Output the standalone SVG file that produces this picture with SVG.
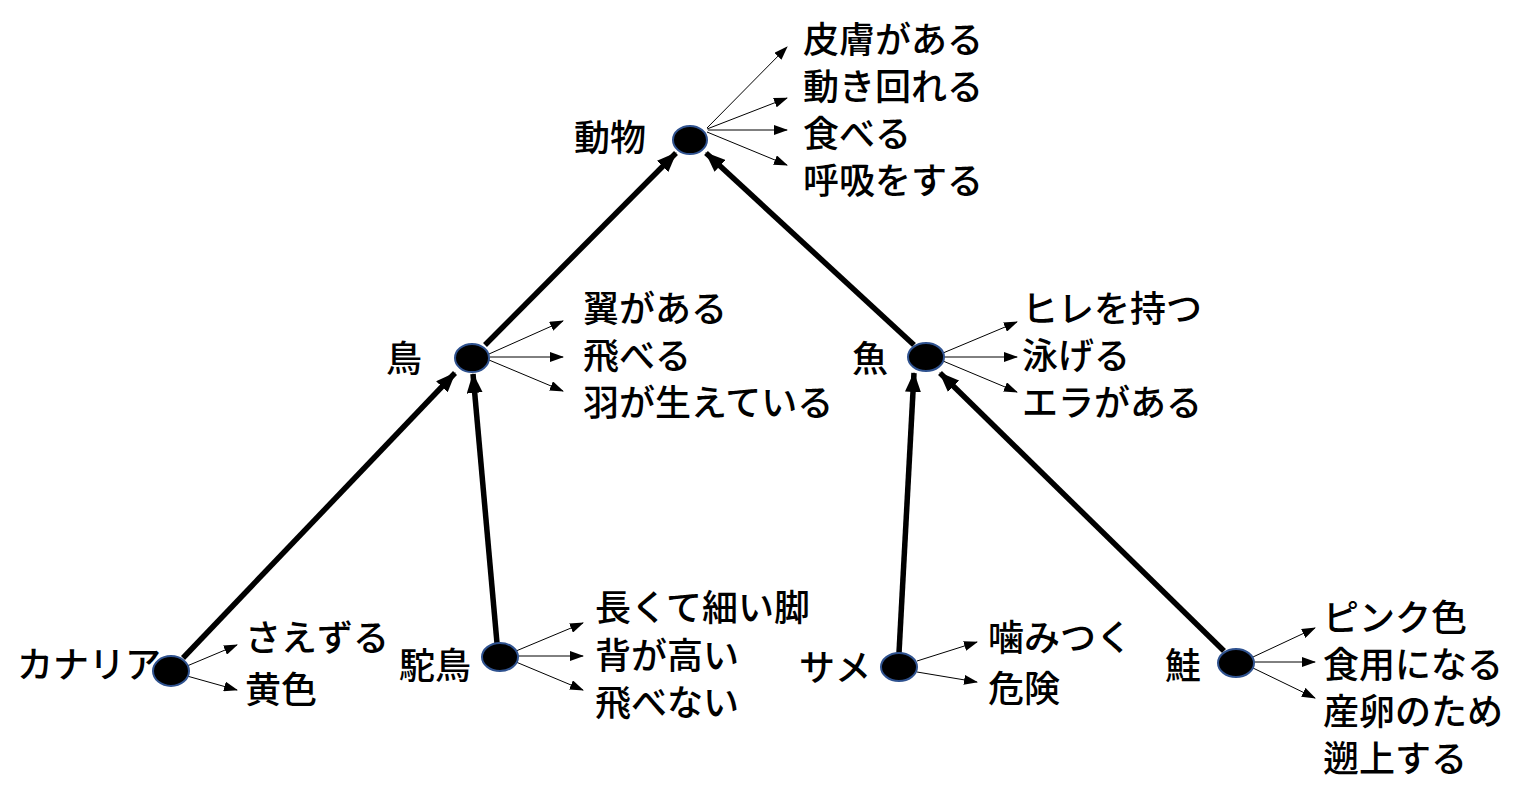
<svg xmlns="http://www.w3.org/2000/svg" width="1536" height="800" viewBox="0 0 1536 800">
<defs>
<marker id="big" viewBox="0 0 20 16" refX="19" refY="8" markerWidth="20" markerHeight="16" markerUnits="userSpaceOnUse" orient="auto"><path d="M0,0 L20,8 L0,16 z" fill="#000"/></marker>
<marker id="small" viewBox="0 0 14 10" refX="13" refY="5" markerWidth="14" markerHeight="10" markerUnits="userSpaceOnUse" orient="auto"><path d="M0,0 L14,5 L0,10 z" fill="#000"/></marker>
<style>
text{font-family:"Noto Sans CJK JP","Noto Sans CJK SC",sans-serif;font-size:36px;font-weight:500;fill:#000}
.thick{stroke:#000;stroke-width:5.5;fill:none;marker-end:url(#big)}
.thin{stroke:#000;stroke-width:1;fill:none;marker-end:url(#small)}
ellipse{fill:#000;stroke:#2F528F;stroke-width:2}
.lab{text-anchor:end}
</style>
</defs>
<rect width="1536" height="800" fill="#fff"/>
<g id="connectors">
<line class="thick" x1="183" y1="658" x2="455" y2="373"/>
<line class="thick" x1="497" y1="643" x2="473" y2="374"/>
<line class="thick" x1="485" y1="345" x2="676" y2="153"/>
<line class="thick" x1="914" y1="345" x2="706" y2="153"/>
<line class="thick" x1="899" y1="653" x2="914" y2="373"/>
<line class="thick" x1="1224" y1="651" x2="940" y2="373"/>
<line class="thin" x1="707" y1="128" x2="787" y2="47"/>
<line class="thin" x1="707" y1="129" x2="787" y2="98"/>
<line class="thin" x1="708" y1="130" x2="787" y2="130"/>
<line class="thin" x1="707" y1="132" x2="787" y2="165"/>
<line class="thin" x1="489" y1="354" x2="563" y2="321"/>
<line class="thin" x1="490" y1="357" x2="563" y2="357"/>
<line class="thin" x1="489" y1="360" x2="563" y2="391"/>
<line class="thin" x1="943" y1="353" x2="1017" y2="322"/>
<line class="thin" x1="944" y1="357" x2="1017" y2="357"/>
<line class="thin" x1="943" y1="361" x2="1017" y2="392"/>
<line class="thin" x1="187" y1="666" x2="237" y2="645"/>
<line class="thin" x1="187" y1="676" x2="237" y2="690"/>
<line class="thin" x1="516" y1="651" x2="583" y2="623"/>
<line class="thin" x1="517" y1="656" x2="583" y2="656"/>
<line class="thin" x1="516" y1="662" x2="583" y2="690"/>
<line class="thin" x1="917" y1="661" x2="977" y2="642"/>
<line class="thin" x1="917" y1="672" x2="977" y2="682"/>
<line class="thin" x1="1253" y1="657" x2="1315" y2="628"/>
<line class="thin" x1="1254" y1="662" x2="1315" y2="662"/>
<line class="thin" x1="1253" y1="668" x2="1315" y2="698"/>
</g>
<g id="animal">
<ellipse cx="690" cy="140" rx="17" ry="14"/>
<text class="lab" x="646" y="151">動物</text>
<text x="803" y="53">皮膚がある</text>
<text x="803" y="100">動き回れる</text>
<text x="803" y="147">食べる</text>
<text x="803" y="194">呼吸をする</text>
</g>
<g id="bird">
<ellipse cx="472" cy="358" rx="17" ry="14"/>
<text class="lab" x="422" y="372">鳥</text>
<text x="583" y="322">翼がある</text>
<text x="583" y="369">飛べる</text>
<text x="583" y="416">羽が生えている</text>
</g>
<g id="fish">
<ellipse cx="926" cy="357" rx="18" ry="14"/>
<text class="lab" x="888" y="372">魚</text>
<text x="1022" y="322">ヒレを持つ</text>
<text x="1022" y="369">泳げる</text>
<text x="1022" y="416">エラがある</text>
</g>
<g id="canary">
<ellipse cx="171" cy="671" rx="18" ry="15"/>
<text class="lab" x="161" y="678">カナリア</text>
<text x="245" y="651">さえずる</text>
<text x="245" y="703">黄色</text>
</g>
<g id="ostrich">
<ellipse cx="500" cy="657" rx="18" ry="14"/>
<text class="lab" x="471" y="679">駝鳥</text>
<text x="595" y="621">長くて細い脚</text>
<text x="595" y="669">背が高い</text>
<text x="595" y="716">飛べない</text>
</g>
<g id="shark">
<ellipse cx="899" cy="667" rx="18" ry="14"/>
<text class="lab" x="871" y="681">サメ</text>
<text x="988" y="651">噛みつく</text>
<text x="988" y="702">危険</text>
</g>
<g id="salmon">
<ellipse cx="1236" cy="663" rx="18" ry="14"/>
<text class="lab" x="1201" y="679">鮭</text>
<text x="1323" y="631">ピンク色</text>
<text x="1323" y="678">食用になる</text>
<text x="1323" y="725">産卵のため</text>
<text x="1323" y="772">遡上する</text>
</g>
</svg>
